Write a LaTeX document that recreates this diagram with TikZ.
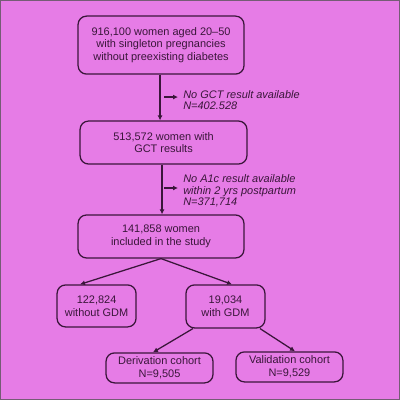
\documentclass[tikz,border=0pt]{standalone}
\usepackage{fontspec}
\setmainfont{Liberation Sans}
\usetikzlibrary{arrows.meta}
\definecolor{FlowPink}{HTML}{E67CE6}
\definecolor{FlowInk}{HTML}{3A163A}

\begin{document}
\begin{tikzpicture}[x=0.025cm,y=-0.025cm,
  box/.style={draw=FlowInk,line width=0.9pt,rounded corners=6pt,align=center,
    inner sep=0pt,text=FlowInk,font=\fontsize{7.8}{9}\selectfont},
  note/.style={anchor=west,align=left,inner sep=0pt,text=FlowInk,
    font=\fontsize{7.8}{8.3}\selectfont\itshape},
  flow/.style={draw=FlowInk,line width=0.9pt,-{Latex[length=3.5pt,width=3.5pt]}}]
  \fill[FlowPink] (0,0) rectangle (400,400);
  \draw[FlowInk!70,line width=0.6pt] (0.3,0.3) rectangle (399.7,399.7);
  \useasboundingbox (0,0) rectangle (400,400);
  % main column
  \node[box,minimum width=166*0.025cm,minimum height=58*0.025cm] (all) at (161,45)
    {916,100 women aged 20--50\\with singleton pregnancies\\without preexisting diabetes};
  \node[box,minimum width=167*0.025cm,minimum height=43*0.025cm] (gct) at (163.5,142.5)
    {513,572 women with\\GCT results};
  \node[box,minimum width=166*0.025cm,minimum height=43*0.025cm] (study) at (161,236.5)
    {141,858 women\\included in the study};
  % split by GDM
  \node[box,minimum width=79*0.025cm,minimum height=42*0.025cm] (nogdm) at (96.5,306)
    {122,824\\without GDM};
  \node[box,minimum width=79*0.025cm,minimum height=43*0.025cm] (gdm) at (225.5,306.5)
    {19,034\\with GDM};
  \node[box,minimum width=107*0.025cm,minimum height=30*0.025cm] (deriv) at (159.5,368)
    {Derivation cohort\\N=9,505};
  \node[box,minimum width=107*0.025cm,minimum height=30*0.025cm] (valid) at (289.5,367)
    {Validation cohort\\N=9,529};
  % exclusions
  \node[note] (excl1) at (183,100) {No GCT result available\\N=402.528};
  \node[note] (excl2) at (183,191) {No A1c result available\\within 2 yrs postpartum\\N=371,714};
  \coordinate (e1) at (164,97);
  \coordinate (e2) at (164,188);
  \draw[flow] (all.south -| 160,0) -- (gct.north -| 160,0);
  \draw[flow] (gct.south -| 162,0) -- (study.north -| 162,0);
  \draw[flow] (e1) -- ([xshift=-5*0.025cm]excl1.west |- e1);
  \draw[flow] (e2) -- ([xshift=-5*0.025cm]excl2.west |- e2);
  \draw[flow] (study.south) -- (nogdm.north -| 80,0);
  \draw[flow] (study.south) -- (gdm.north -| 232,0);
  \draw[flow] (gdm.south -| 193,0) -- (deriv.north -| 153,0);
  \draw[flow] (gdm.south -| 260,0) -- (valid.north -| 295,0);
\end{tikzpicture}
\end{document}
